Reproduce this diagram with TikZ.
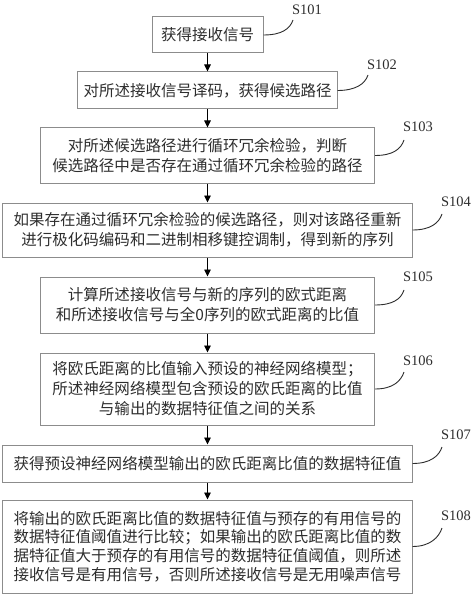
\documentclass[tikz,border=0pt]{standalone}
\usepackage{fontspec}
\setmainfont{Liberation Serif}
\newfontfamily\cjk{Noto Sans CJK SC}
\usetikzlibrary{arrows.meta}
\definecolor{boxgray}{HTML}{8C8C8C}
\definecolor{txt}{HTML}{2E2E2E}
\begin{document}
\begin{tikzpicture}[x=1bp,y=-1bp,
  stepbox/.style={draw=boxgray, line width=1bp, inner sep=0pt, align=center, text=txt,
    font=\cjk\fontsize{15.5bp}{20bp}\selectfont},
  lbl/.style={inner sep=0pt, text=txt, font=\fontsize{14.5bp}{16bp}\selectfont},
  flow/.style={-{Triangle[width=6.5bp,length=7bp]}, line width=0.9bp, draw=black},
  lead/.style={line width=0.9bp, draw=txt}]
\useasboundingbox (0,0) rectangle (474,595);
\fill[white] (0,0) rectangle (474,595);

\node[stepbox, minimum width=111bp, minimum height=36bp] (b1) at (207.5,35) {获得接收信号};
\node[stepbox, minimum width=259bp, minimum height=37bp] (b2) at (207.5,90.5) {对所述接收信号译码，获得候选路径};
\node[stepbox, minimum width=334bp, minimum height=55bp] (b3) at (207.5,155.5) {对所述候选路径进行循环冗余检验，判断\\候选路径中是否存在通过循环冗余检验的路径};
\node[stepbox, minimum width=409bp, minimum height=54bp] (b4) at (207.5,230) {如果存在通过循环冗余检验的候选路径，则对该路径重新\\进行极化码编码和二进制相移键控调制，得到新的序列};
\node[stepbox, minimum width=334bp, minimum height=56bp] (b5) at (207.5,305) {计算所述接收信号与新的序列的欧式距离\\和所述接收信号与全0序列的欧式距离的比值};
\node[stepbox, minimum width=334bp, minimum height=72bp] (b6) at (207.5,389) {将欧氏距离的比值输入预设的神经网络模型；\\所述神经网络模型包含预设的欧氏距离的比值\\与输出的数据特征值之间的关系};
\node[stepbox, minimum width=409bp, minimum height=37bp] (b7) at (207.5,463.5) {获得预设神经网络模型输出的欧氏距离比值的数据特征值};
\node[stepbox, minimum width=409bp, minimum height=93bp, font=\cjk\fontsize{15.5bp}{18.7bp}\selectfont] (b8) at (207.5,546.5) {将输出的欧氏距离比值的数据特征值与预存的有用信号的\\数据特征值阈值进行比较；如果输出的欧氏距离比值的数\\据特征值大于预存的有用信号的数据特征值阈值，则所述\\接收信号是有用信号，否则所述接收信号是无用噪声信号};

\node[lbl] (l1) at (307,10) {S101};
\node[lbl] (l2) at (382,65) {S102};
\node[lbl] (l3) at (418,127) {S103};
\node[lbl] (l4) at (456,202) {S104};
\node[lbl] (l5) at (418,277) {S105};
\node[lbl] (l6) at (418,361) {S106};
\node[lbl] (l7) at (456,435) {S107};
\node[lbl] (l8) at (456,516) {S108};

\coordinate (c1) at (293,20);
\coordinate (c2) at (368,75);
\coordinate (c3) at (404,140);
\coordinate (c4) at (442,214);
\coordinate (c5) at (404,290);
\coordinate (c6) at (404,372);
\coordinate (c7) at (442,447);
\coordinate (c8) at (442,528);

\foreach \i in {1,...,8}{
  \draw[lead] (b\i.east) .. controls +(18,0) and +(-3,9) .. (c\i);
}

\draw[flow] (b1) -- (b2);
\draw[flow] (b2) -- (b3);
\draw[flow] (b3) -- (b4);
\draw[flow] (b4) -- (b5);
\draw[flow] (b5) -- (b6);
\draw[flow] (b6) -- (b7);
\draw[flow] (b7) -- (b8);
\end{tikzpicture}
\end{document}
